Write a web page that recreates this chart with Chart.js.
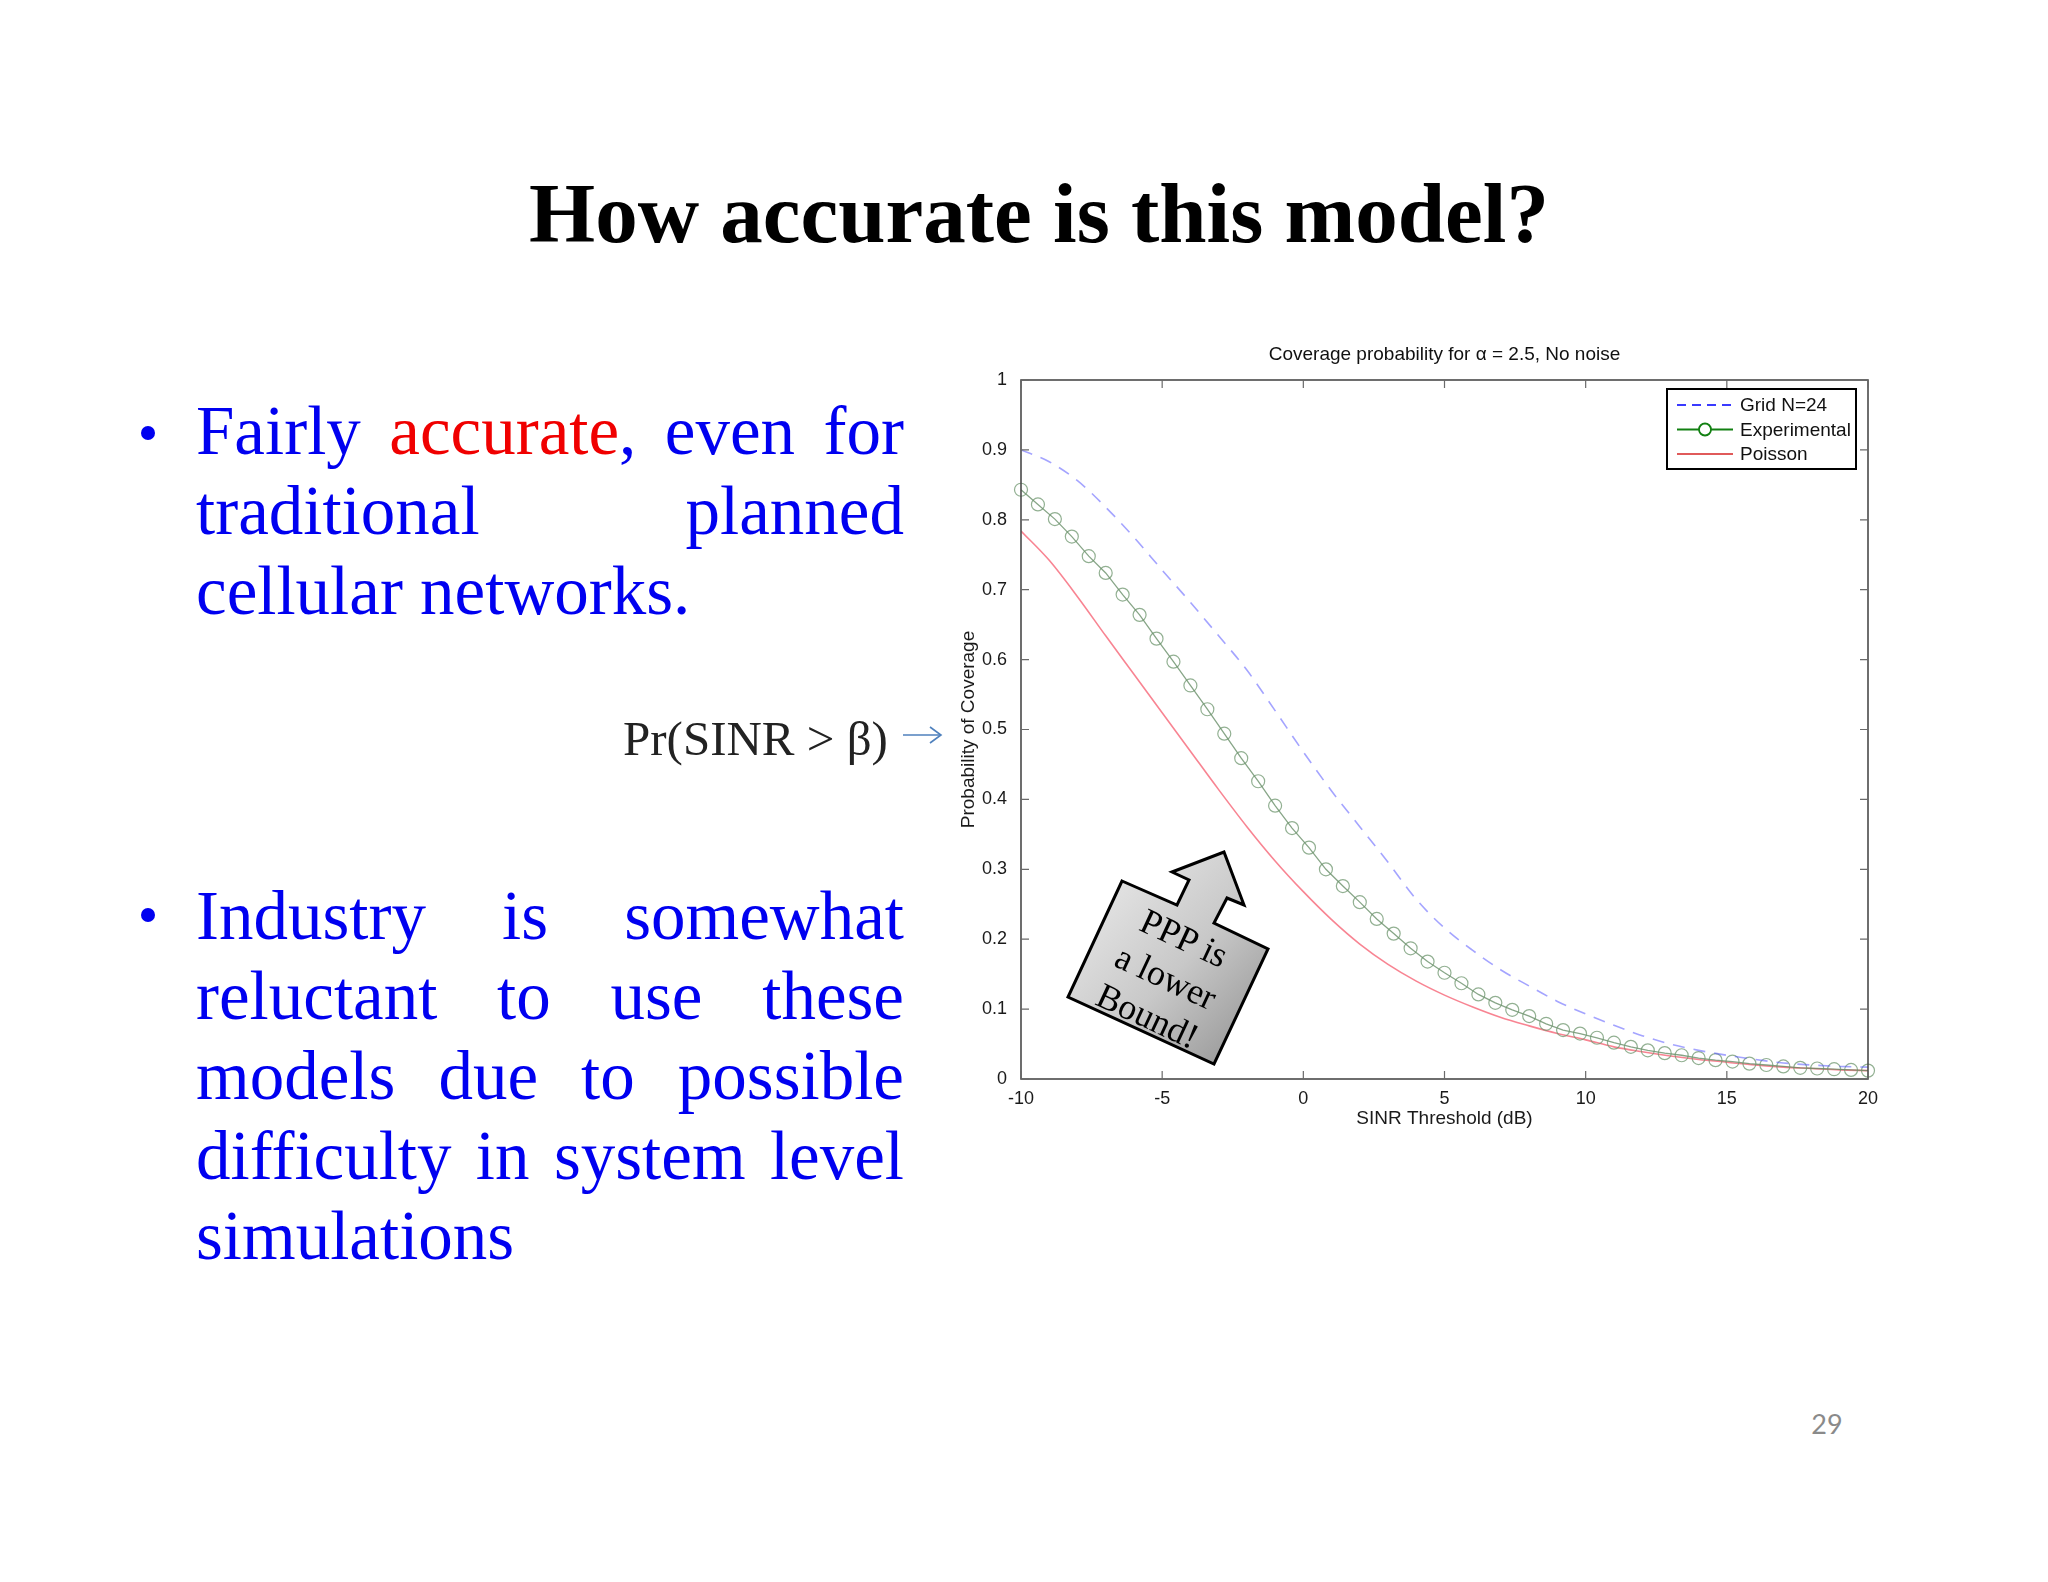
<!DOCTYPE html>
<html><head><meta charset="utf-8">
<script src="https://cdn.jsdelivr.net/npm/chart.js@4.4.1/dist/chart.umd.min.js"></script>
<style>
html,body{margin:0;padding:0;background:#fff;}
body{width:2048px;height:1582px;position:relative;overflow:hidden;font-family:"Liberation Serif",serif;}
.t{position:absolute;white-space:nowrap;line-height:1;}
.j{position:absolute;left:196px;width:708px;line-height:1;font-size:69px;color:#0000f0;text-align:justify;text-align-last:justify;white-space:nowrap;}
.l{text-align:left;text-align-last:left;}
.dot{position:absolute;width:14px;height:14px;border-radius:50%;background:#0000f0;}
#wrap{position:absolute;left:940px;top:330px;width:960px;height:830px;}
svg{position:absolute;left:0;top:0;}
</style></head><body>

<div class="t" style="left:1039px;top:171px;font-size:85px;font-weight:bold;color:#000;transform:translateX(-50%);">How accurate is this model?</div>

<div class="dot" style="left:141px;top:426px;"></div>
<div class="j" style="top:397px;">Fairly <span style="color:#f00000">accurate</span>, even for</div>
<div class="j" style="top:477px;">traditional planned</div>
<div class="j l" style="top:557px;">cellular networks.</div>

<div class="t" style="left:623px;top:714px;font-size:49px;color:#222;">Pr(SINR &gt; β)</div>

<div class="dot" style="left:141px;top:908px;"></div>
<div class="j" style="top:882px;">Industry is somewhat</div>
<div class="j" style="top:962px;">reluctant to use these</div>
<div class="j" style="top:1042px;">models due to possible</div>
<div class="j" style="top:1122px;">difficulty in system level</div>
<div class="j l" style="top:1202px;">simulations</div>

<div class="t" style="left:1827px;top:1410px;font-size:27px;color:#8a8a8a;font-family:Lato,'Open Sans',sans-serif;transform:translateX(-50%);">29</div>

<div id="wrap"><canvas id="c"></canvas></div>

<svg width="2048" height="1582" style="pointer-events:none">
  <defs>
    <linearGradient id="gg" x1="0" y1="0" x2="1" y2="1">
      <stop offset="0" stop-color="#f0f0f0"/>
      <stop offset="0.55" stop-color="#c8c8c8"/>
      <stop offset="1" stop-color="#8e8e8e"/>
    </linearGradient>
  </defs>
  <g stroke="#4f81bd" stroke-width="1.6" fill="none">
    <line x1="903" y1="735" x2="941" y2="735"/>
    <polyline points="930,727 941,735 930,743"/>
  </g>
  <polygon points="1122,881 1177,905 1189,880 1172,872 1224,852 1244,905 1227,898 1214,923 1268,949 1214,1064 1068,997"
     fill="url(#gg)" stroke="#000" stroke-width="3" stroke-linejoin="miter"/>
  <g transform="translate(1166,977) rotate(25)" font-family="Liberation Serif" font-size="36" fill="#000" text-anchor="middle">
    <text x="0" y="-31">PPP is</text>
    <text x="0" y="12">a lower</text>
    <text x="0" y="55">Bound!</text>
  </g>
</svg>

<script>
// ---- data ----
const gridX = [-10,-9,-8,-7,-6,-5,-4,-3,-2,-1,0,1,2,3,4,5,6,7,8,9,10,11,12,13,14,15,16,17,18,19,20];
const gridY = [0.900,0.883,0.856,0.818,0.775,0.728,0.682,0.634,0.585,0.527,0.468,0.412,0.361,0.310,0.257,0.216,0.184,0.156,0.133,0.111,0.093,0.077,0.062,0.050,0.041,0.034,0.028,0.023,0.020,0.018,0.017];
const poissonY = [0.784,0.742,0.690,0.634,0.579,0.524,0.469,0.414,0.361,0.312,0.268,0.228,0.193,0.164,0.140,0.120,0.103,0.088,0.076,0.065,0.056,0.046,0.039,0.033,0.028,0.024,0.020,0.017,0.015,0.013,0.012];
const expX = [-10,-9.4,-8.8,-8.2,-7.6,-7,-6.4,-5.8,-5.2,-4.6,-4,-3.4,-2.8,-2.2,-1.6,-1,-0.4,0.2,0.8,1.4,2,2.6,3.2,3.8,4.4,5,5.6,6.2,6.8,7.4,8,8.6,9.2,9.8,10.4,11,11.6,12.2,12.8,13.4,14,14.6,15.2,15.8,16.4,17,17.6,18.2,18.8,19.4,20];
const expY = [0.843,0.822,0.801,0.776,0.748,0.724,0.693,0.664,0.630,0.597,0.563,0.529,0.494,0.459,0.426,0.391,0.359,0.331,0.300,0.276,0.253,0.229,0.208,0.187,0.168,0.152,0.137,0.121,0.109,0.099,0.090,0.079,0.070,0.065,0.059,0.052,0.046,0.041,0.037,0.034,0.030,0.027,0.025,0.022,0.020,0.018,0.016,0.015,0.014,0.013,0.012];
const seriesLabels = ['Grid N=24','Experimental','Poisson'];
const xTicks = [-10,-5,0,5,10,15,20];
const chartTitle = 'Coverage probability for \u03b1 = 2.5, No noise';
const xTitle = 'SINR Threshold (dB)';
const yTitle = 'Probability of Coverage';

const zip = (xs, ys) => xs.map((x, i) => ({x: x, y: ys[i]}));

const legendColors = ['#3a3aff', '#128012', '#e05a5a'];

const matlabPlugin = {
  id: 'matlab',
  afterDraw(chart) {
    const ctx = chart.ctx, a = chart.chartArea;
    const xs = chart.scales.x, ys = chart.scales.y;
    ctx.save();
    ctx.strokeStyle = '#4a4a4a';
    ctx.lineWidth = 1.6;
    ctx.strokeRect(a.left, a.top, a.right - a.left, a.bottom - a.top);
    ctx.lineWidth = 1.2;
    ctx.strokeStyle = '#6a6a6a';
    const L = 8;
    xs.ticks.forEach(t => {
      const px = xs.getPixelForValue(t.value);
      ctx.beginPath();
      ctx.moveTo(px, a.bottom); ctx.lineTo(px, a.bottom - L);
      ctx.moveTo(px, a.top); ctx.lineTo(px, a.top + L);
      ctx.stroke();
    });
    ys.ticks.forEach(t => {
      const py = ys.getPixelForValue(t.value);
      ctx.beginPath();
      ctx.moveTo(a.left, py); ctx.lineTo(a.left + L, py);
      ctx.moveTo(a.right, py); ctx.lineTo(a.right - L, py);
      ctx.stroke();
    });
    ctx.fillStyle = '#111';
    ctx.font = '19px "Liberation Sans", Arial, sans-serif';
    ctx.textAlign = 'center';
    ctx.textBaseline = 'middle';
    ctx.fillText(chartTitle, (a.left + a.right) / 2, a.top - 25);
    const w = 189, h = 80;
    const lx = a.right - 12 - w, ly = a.top + 9;
    ctx.fillStyle = '#fff';
    ctx.fillRect(lx, ly, w, h);
    ctx.strokeStyle = '#000';
    ctx.lineWidth = 2;
    ctx.strokeRect(lx, ly, w, h);
    ctx.font = '19px "Liberation Sans", Arial, sans-serif';
    ctx.textAlign = 'left';
    chart.data.datasets.forEach((ds, i) => {
      const yy = ly + 16 + i * 24.5;
      ctx.strokeStyle = legendColors[i];
      ctx.lineWidth = 1.8;
      ctx.setLineDash(i === 0 ? [9, 6] : []);
      ctx.beginPath();
      ctx.moveTo(lx + 10, yy); ctx.lineTo(lx + 66, yy);
      ctx.stroke();
      ctx.setLineDash([]);
      if (i === 1) {
        ctx.beginPath();
        ctx.arc(lx + 38, yy, 6, 0, Math.PI * 2);
        ctx.fillStyle = '#fff';
        ctx.fill();
        ctx.stroke();
      }
      ctx.fillStyle = '#111';
      ctx.fillText(ds.label, lx + 73, yy + 1);
    });
    ctx.restore();
  }
};

new Chart(document.getElementById('c'), {
  type: 'line',
  data: {
    datasets: [
      {
        label: seriesLabels[0],
        data: zip(gridX, gridY),
        borderColor: 'rgba(90,90,255,0.55)',
        borderWidth: 1.6,
        borderDash: [12, 9],
        pointRadius: 0,
        cubicInterpolationMode: 'monotone',
        fill: false
      },
      {
        label: seriesLabels[1],
        data: zip(expX, expY),
        borderColor: 'rgba(95,135,95,0.75)',
        borderWidth: 1.3,
        pointRadius: 6.5,
        pointStyle: 'circle',
        pointBorderColor: 'rgba(110,150,110,0.75)',
        pointBackgroundColor: 'rgba(255,255,255,0)',
        pointBorderWidth: 1.2,
        clip: false,
        fill: false
      },
      {
        label: seriesLabels[2],
        data: zip(gridX, poissonY),
        borderColor: 'rgba(245,80,100,0.7)',
        borderWidth: 1.6,
        pointRadius: 0,
        cubicInterpolationMode: 'monotone',
        fill: false
      }
    ]
  },
  options: {
    responsive: true,
    maintainAspectRatio: false,
    animation: false,
    events: [],
    layout: { padding: { top: 50, right: 32, left: 0, bottom: 0 } },
    plugins: { legend: { display: false }, tooltip: { enabled: false }, title: { display: false } },
    scales: {
      x: {
        type: 'linear',
        min: -10, max: 20,
        afterBuildTicks: (s) => { s.ticks = xTicks.map(v => ({value: v})); },
        afterFit: (s) => { s.height = 81; },
        grid: { display: false },
        border: { display: false },
        ticks: {
          padding: 1,
          color: '#1a1a1a',
          font: { family: '"Liberation Sans", Arial, sans-serif', size: 18 },
          callback: (v) => String(v),
          maxRotation: 0
        },
        title: {
          display: true, text: xTitle, color: '#1a1a1a',
          font: { family: '"Liberation Sans", Arial, sans-serif', size: 19 },
          padding: { top: 0, bottom: 29.6 }
        }
      },
      y: {
        min: 0, max: 1,
        afterFit: (s) => { s.width = 81; },
        grid: { display: false },
        border: { display: false },
        ticks: {
          stepSize: 0.1,
          padding: 6,
          color: '#1a1a1a',
          font: { family: '"Liberation Sans", Arial, sans-serif', size: 18 },
          callback: (v) => String(Number(v.toFixed(1)))
        },
        title: {
          display: true, text: yTitle, color: '#1a1a1a',
          font: { family: '"Liberation Sans", Arial, sans-serif', size: 19 },
          padding: { top: 17.6, bottom: 0 }
        }
      }
    }
  },
  plugins: [matlabPlugin]
});
</script>
</body></html>
